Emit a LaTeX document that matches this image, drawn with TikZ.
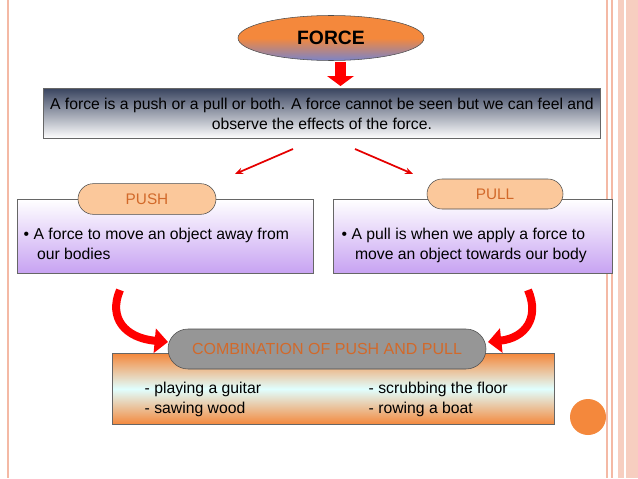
\documentclass[tikz,border=0pt]{standalone}
\usepackage{fontspec}
\setmainfont{Liberation Sans}
\usetikzlibrary{shapes.geometric,shapes.misc,arrows.meta}
\definecolor{pinkb}{HTML}{F4B9A5}
\definecolor{orng}{HTML}{F4883C}
\definecolor{txto}{HTML}{D2692A}
\definecolor{pill}{HTML}{FBC89B}
\definecolor{purp}{HTML}{C7A2F2}
\definecolor{slate}{HTML}{3A4560}
\definecolor{grayp}{HTML}{969696}
\definecolor{blu}{HTML}{7B84C8}
\tikzset{
  box/.style={draw=gray!80!black, line width=0.6pt, rectangle, anchor=north west, inner sep=0pt},
  pillS/.style={draw=black!70, rounded rectangle, fill=pill, text=txto, font=\fontsize{11.5}{13}\selectfont, minimum height=23pt, inner sep=0pt},
  redarr/.style={red!90!black, line width=1.3pt, -{Stealth[length=6pt,width=5pt]}},
  curv/.style={red, line width=6pt, -{Triangle[width=18pt,length=10pt]}},
  body/.style={font=\fontsize{11.8}{15}\selectfont, align=left, anchor=north west}
}
\begin{document}
\begin{tikzpicture}[x=0.75pt,y=-0.75pt]
\useasboundingbox (0,0) rectangle (638,478);
\fill[white] (0,0) rectangle (638,478);
% decoration
\draw[pinkb, line width=1pt] (8,0) -- (8,478);
\draw[pinkb, line width=1pt] (607,0) -- (607,478);
\draw[pinkb, line width=1pt] (612,0) -- (612,478);
\fill[pinkb!70] (618,0) rectangle (638,478);
\draw[white, line width=1pt] (625,0) -- (625,478);
% FORCE
\node[ellipse, draw=black!70, minimum width=186pt*0.75, minimum height=45pt*0.75, top color=orng, bottom color=blu, middle color=orng, font=\bfseries\fontsize{14.5}{16}\selectfont] (force) at (331,38) {FORCE};
% down arrow
\fill[red] (335,62) rectangle (346,76);
\fill[red] (327,76) -- (354,76) -- (340.5,86) -- cycle;
% definition box
\node[box, minimum width=557pt*0.75, minimum height=50pt*0.75, top color=slate, bottom color=white] (def) at (43,88) {};
\node[font=\fontsize{11.8}{15}\selectfont, align=center] at (def.center) {A force is a push or a pull or both. A force cannot be seen but we can feel and\\observe the effects of the force.};
% red arrows
\coordinate (a1) at (293,149); \coordinate (b1) at (235,174);
\coordinate (a2) at (355,149); \coordinate (b2) at (413,174);
\draw[redarr] (a1) -- (b1);
\draw[redarr] (a2) -- (b2);
% PUSH box
\node[box, minimum width=296pt*0.75, minimum height=74pt*0.75, top color=white, bottom color=purp] (push) at (17,199) {};
\node[body] at (19,223) {\textbullet\ A force to move an object away from\\\hspace*{0.85em}our bodies};
\node[pillS, minimum width=138pt*0.75] (pushl) at (147,199) {PUSH};
% PULL box
\node[box, minimum width=279pt*0.75, minimum height=74pt*0.75, top color=white, bottom color=purp] (pull) at (333,199) {};
\node[body] at (337,223) {\textbullet\ A pull is when we apply a force to\\\hspace*{0.85em}move an object towards our body};
\node[pillS, minimum width=136pt*0.75, minimum height=30pt*0.75] (pulll) at (495,194) {PULL};
% bottom box
\node[box, minimum width=442pt*0.75, minimum height=71pt*0.75, top color=orng, bottom color=orng, middle color=cyan!12] (comb) at (112,353) {};
\node[body] at (140,377) {- playing a guitar\\- sawing wood};
\node[body] at (364,377) {- scrubbing the floor\\- rowing a boat};
\node[pillS, fill=grayp, minimum width=318pt*0.75, minimum height=40pt*0.75, font=\fontsize{12}{14}\selectfont] (combl) at (327,349) {COMBINATION OF PUSH AND PULL};
% curved arrows
\coordinate (c1) at (120,290); \coordinate (d1) at (168,342);
\coordinate (c2) at (528,290); \coordinate (d2) at (488,342);
\draw[curv] (c1) .. controls (108,318) and (125,338) .. (d1);
\draw[curv] (c2) .. controls (540,318) and (525,338) .. (d2);
% circle
\fill[orng] (588,417) circle (18*0.75pt);
\end{tikzpicture}
\end{document}
